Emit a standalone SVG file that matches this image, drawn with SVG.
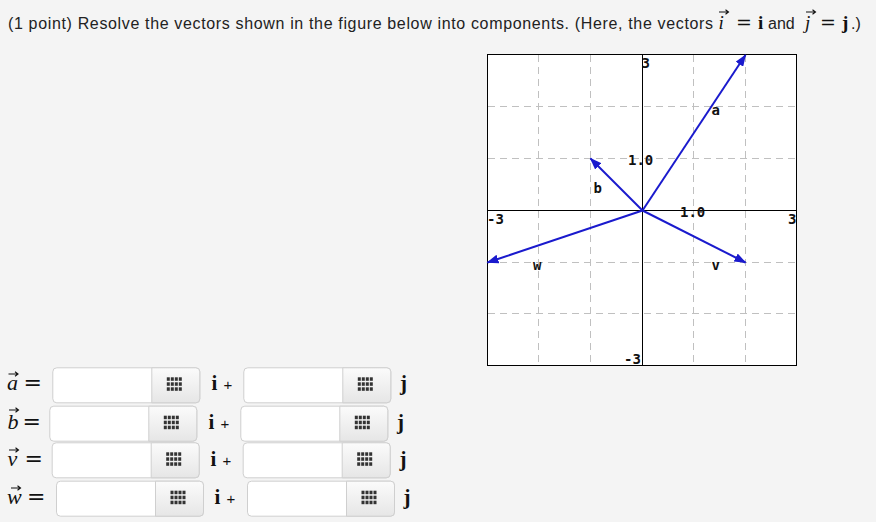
<svg xmlns="http://www.w3.org/2000/svg" width="876" height="522" viewBox="0 0 876 522">
<style>
.hdr{font-family:"Liberation Sans",Arial,sans-serif;font-size:16px;fill:#222}
.mi{font-family:"Liberation Serif","Times New Roman",serif;font-style:italic;fill:#111}
.mb{font-family:"Liberation Serif","Times New Roman",serif;font-weight:bold;fill:#111}
.eq{font-family:"DejaVu Serif",serif;fill:#111}
.plus{font-family:"Liberation Sans",Arial,sans-serif;font-size:15px;fill:#111}
.gl{font-family:"DejaVu Sans Mono",monospace;font-weight:bold;font-size:14px;fill:#111}
.grid{stroke:#c0c0c0;stroke-width:1;stroke-dasharray:7,5;fill:none}
.axis{stroke:#000;stroke-width:1;fill:none}
.vec{stroke:#1a1acd;stroke-width:2;fill:none;marker-end:url(#ah)}
</style>
<defs>
<marker id="ah" viewBox="0 0 12 9" refX="11" refY="4.5" markerWidth="12" markerHeight="9" markerUnits="userSpaceOnUse" orient="auto">
<path d="M0,0 L12,4.5 L0,9 z" fill="#1a1acd"/>
</marker>
<linearGradient id="btn" x1="0" y1="0" x2="0" y2="1">
<stop offset="0" stop-color="#fbfbfb"/>
<stop offset="1" stop-color="#e6e6e6"/>
</linearGradient>
<g id="field">
<rect x="0.5" y="0.5" width="147" height="35" rx="4" fill="#fff" stroke="#cfcfcf"/>
<path d="M99.5,0.5 H143.5 A4,4 0 0 1 147.5,4.5 V31.5 A4,4 0 0 1 143.5,35.5 H99.5 Z" fill="url(#btn)" stroke="#cfcfcf"/>
<g fill="#333">
<rect x="114.5" y="10" width="3" height="3.5"/><rect x="118.5" y="10" width="3" height="3.5"/><rect x="122.5" y="10" width="3" height="3.5"/><rect x="126.5" y="10" width="3" height="3.5"/>
<rect x="114.5" y="15" width="3" height="3.5"/><rect x="118.5" y="15" width="3" height="3.5"/><rect x="122.5" y="15" width="3" height="3.5"/><rect x="126.5" y="15" width="3" height="3.5"/>
<rect x="114.5" y="20" width="3" height="3.5"/><rect x="118.5" y="20" width="3" height="3.5"/><rect x="122.5" y="20" width="3" height="3.5"/><rect x="126.5" y="20" width="3" height="3.5"/>
</g>
</g>
<path id="varrow" d="M0,0 H9 M6.5,-2.2 L9.5,0 L6.5,2.2" stroke="#111" stroke-width="1.1" fill="none"/>
</defs>
<rect x="0" y="0" width="876" height="522" fill="#f4f4f4"/>

<g id="header">
<text class="hdr" x="8" y="29" textLength="705" lengthAdjust="spacing">(1 point) Resolve the vectors shown in the figure below into components. (Here, the vectors</text>
<text class="mi" x="718.5" y="29" font-size="19">i</text>
<use href="#varrow" x="719" y="12"/>
<text class="eq" x="736" y="29" font-size="19">=</text>
<text class="mb" x="758" y="29" font-size="19">i</text>
<text class="hdr" x="768" y="29">and</text>
<text class="mi" x="805" y="29" font-size="19">j</text>
<use href="#varrow" x="806" y="12"/>
<text class="eq" x="820" y="29" font-size="19">=</text>
<text class="mb" x="842" y="29" font-size="19">j</text>
<text class="hdr" x="851" y="29">.)</text>
</g>

<g id="graph">
<rect x="487.5" y="54.5" width="309" height="311" fill="#fff"/>
<g class="grid">
<line x1="538.5" y1="55" x2="538.5" y2="365"/>
<line x1="590.5" y1="55" x2="590.5" y2="365"/>
<line x1="693.5" y1="55" x2="693.5" y2="365"/>
<line x1="745.5" y1="55" x2="745.5" y2="365"/>
<line x1="488" y1="106.5" x2="796" y2="106.5"/>
<line x1="488" y1="158.5" x2="796" y2="158.5"/>
<line x1="488" y1="262.5" x2="796" y2="262.5"/>
<line x1="488" y1="313.5" x2="796" y2="313.5"/>
</g>
<line class="axis" x1="642.5" y1="55" x2="642.5" y2="365"/>
<line class="axis" x1="488" y1="210.5" x2="796" y2="210.5"/>
<rect x="487.5" y="54.5" width="309" height="311" fill="none" stroke="#000"/>
<text class="gl" x="641.5" y="67.5">3</text>
<text class="gl" x="628" y="165">1.0</text>
<text class="gl" x="680" y="216.5">1.0</text>
<text class="gl" x="487" y="224">-3</text>
<text class="gl" x="788" y="224">3</text>
<text class="gl" x="624" y="364">-3</text>
</g>

<g id="connectors">
<line id="vec-a" class="vec" x1="642.5" y1="210.5" x2="745.5" y2="55"/>
<line id="vec-b" class="vec" x1="642.5" y1="210.5" x2="590.5" y2="158.5"/>
<line id="vec-v" class="vec" x1="642.5" y1="210.5" x2="745.5" y2="262.5"/>
<line id="vec-w" class="vec" x1="642.5" y1="210.5" x2="487.5" y2="262.5"/>
</g>

<g id="vec-labels">
<text class="gl" x="711.5" y="114.5" font-size="13">a</text>
<text class="gl" x="593.5" y="192.5" font-size="13">b</text>
<text class="gl" x="711.5" y="270" font-size="13">v</text>
<text class="gl" x="533" y="270" font-size="13">w</text>
</g>

<g id="row-a">
<text class="mi" x="7" y="390" font-size="22">a</text>
<use href="#varrow" x="8.5" y="374"/>
<text class="eq" x="23.5" y="390" font-size="22">=</text>
<use href="#field" x="52.3" y="367.3"/>
<text class="mb" x="211.5" y="390" font-size="21">i</text>
<text class="plus" x="223.5" y="390">+</text>
<use href="#field" x="243.3" y="367.3"/>
<text class="mb" x="400" y="390" font-size="21">j</text>
</g>

<g id="row-b">
<text class="mi" x="7.5" y="428.5" font-size="22">b</text>
<use href="#varrow" x="9" y="410"/>
<text class="eq" x="22.5" y="428.5" font-size="22">=</text>
<use href="#field" x="49.3" y="405.7"/>
<text class="mb" x="208.5" y="428.5" font-size="21">i</text>
<text class="plus" x="220.5" y="428.5">+</text>
<use href="#field" x="240.3" y="405.7"/>
<text class="mb" x="397" y="428.5" font-size="21">j</text>
</g>

<g id="row-v">
<text class="mi" x="7.5" y="466" font-size="22">v</text>
<use href="#varrow" x="9" y="450"/>
<text class="eq" x="24.5" y="466" font-size="22">=</text>
<use href="#field" x="51.7" y="442.3"/>
<text class="mb" x="210.5" y="466" font-size="21">i</text>
<text class="plus" x="222.5" y="466">+</text>
<use href="#field" x="242.7" y="442.3"/>
<text class="mb" x="399.5" y="466" font-size="21">j</text>
</g>

<g id="row-w">
<text class="mi" x="7" y="504" font-size="22">w</text>
<use href="#varrow" x="11" y="488"/>
<text class="eq" x="27" y="504" font-size="22">=</text>
<use href="#field" x="56" y="480.7"/>
<text class="mb" x="214.5" y="504" font-size="21">i</text>
<text class="plus" x="226.5" y="504">+</text>
<use href="#field" x="247" y="480.7"/>
<text class="mb" x="403.5" y="504" font-size="21">j</text>
</g>
</svg>
